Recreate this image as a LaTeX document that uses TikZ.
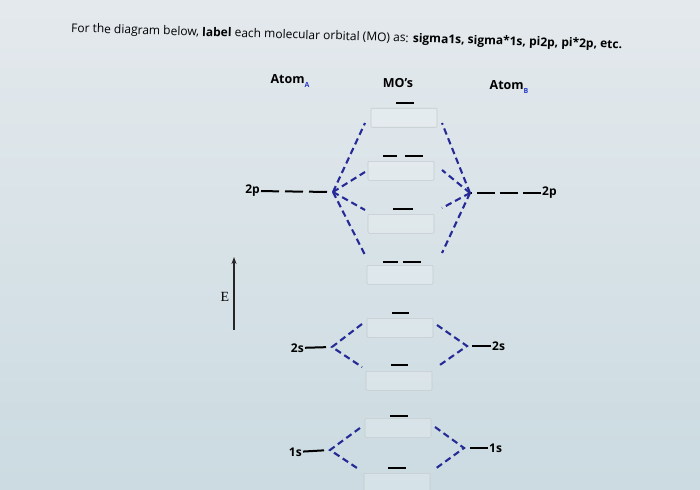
\documentclass[tikz,border=0pt]{standalone}
\usepackage{fontspec}
\setmainfont{Open Sans}
\newfontfamily\serifE{Liberation Serif}
\usetikzlibrary{arrows.meta}

\definecolor{papertop}{RGB}{228,233,237}
\definecolor{paperbot}{RGB}{203,219,225}
\definecolor{mixblue}{RGB}{38,42,150}
\definecolor{subblue}{RGB}{40,60,200}
\definecolor{boxgray}{RGB}{196,203,208}

\tikzset{
	moline/.style={fill=black, minimum width=#1, minimum height=2.5pt, inner sep=0pt},
	moline/.default=18pt,
	answerbox/.style={draw=boxgray, fill=white, fill opacity=0.2, rounded corners=1pt,
		line width=0.6pt, minimum width=66pt, minimum height=19pt, inner sep=0pt},
	mix/.style={draw=mixblue, line width=2.1pt, dash pattern=on 6.5pt off 4pt},
	aolabel/.style={font=\bfseries\fontsize{12}{13}\selectfont, inner sep=1pt},
	aoline/.style={line width=2pt},
	header/.style={font=\bfseries\fontsize{12.5}{14}\selectfont, inner sep=0pt},
}

\newcommand{\atomsub}[1]{\raisebox{-4pt}{\textcolor{subblue}{\fontsize{7}{7}\selectfont #1}}}

\begin{document}
\begin{tikzpicture}[x=1pt,y=-1pt]
	% paper
	\fill[top color=papertop, bottom color=paperbot] (0,0) rectangle (700,489);
	\useasboundingbox (0,0) rectangle (700,489);
	
	\node[anchor=west, rotate=-1.7, inner sep=0pt, font=\fontsize{12}{14}\selectfont] (title) at (71,29)
		{For the diagram below, \textbf{label} each molecular orbital (MO) as: \textbf{sigma1s, sigma*1s, pi2p, pi*2p, etc.}};
	
	\node[header] (atomA) at (290,81) {Atom\atomsub{A}};
	\node[header] (mos) at (398,83) {MO's};
	\node[header] (atomB) at (509,87) {Atom\atomsub{B}};
	
	% answer boxes
	\foreach \y/\x [count=\i] in {108/404,161/401,214/401,265/400,318/400,371/399,418/398,473/397}
		\node[answerbox, anchor=north] (box\i) at (\x,\y) {};
	
	% molecular orbitals
	\node[moline] (s2pstar) at (405,103) {};
	\node[moline=14pt] (p2pstarA) at (390,156) {};
	\node[moline=18pt] (p2pstarB) at (414,156) {};
	\node[moline=20pt] (s2p) at (403,209) {};
	\node[moline=15pt] (p2pA) at (390.5,262) {};
	\node[moline=18pt] (p2pB) at (412,262) {};
	\node[moline=17pt] (s2sstar) at (400.5,313) {};
	\node[moline=17pt] (s2s) at (399.5,365) {};
	\node[moline] (s1sstar) at (399,416) {};
	\node[moline] (s1s) at (397,468) {};
	
	% atom A
	\node[aolabel, anchor=east] (twopA) at (261,191) {2p};
	\node[aolabel, anchor=east] (twosA) at (305,348) {2s};
	\node[aolabel, anchor=east] (onesA) at (303,452) {1s};
	\coordinate (vpA) at (333,192);
	\coordinate (vsA) at (332,347);
	\coordinate (v1A) at (330,450);
	
	% atom B
	\node[aolabel, anchor=west] (twopB) at (541,193) {2p};
	\node[aolabel, anchor=west] (twosB) at (491,346) {2s};
	\node[aolabel, anchor=west] (onesB) at (488,448) {1s};
	\coordinate (vpB) at (470,193);
	\coordinate (vsB) at (467,346);
	\coordinate (v1B) at (464,448);
	
	\draw[aoline, dash pattern=on 18pt off 6pt] (twopA) -- (vpA);
	\draw[aoline, dash pattern=on 18pt off 5pt] (twopB) -- (vpB);
	\draw[aoline, shorten >=6pt] (twosA) -- (vsA);
	\draw[aoline, shorten >=5pt] (twosB) -- (vsB);
	\draw[aoline, shorten >=6pt] (onesA) -- (v1A);
	\draw[aoline, shorten >=6pt] (onesB) -- (v1B);
	
	% correlation lines
	\foreach \y [count=\i] in {123,172,210,255}
		\coordinate (eA\i) at (365,\y);
	\foreach \y [count=\i] in {123,170,208,253}
		\coordinate (eB\i) at (442,\y);
	\foreach \i in {1,...,4} {
		\draw[mix] (vpA) -- (eA\i);
		\draw[mix] (vpB) -- (eB\i);
	}
	\coordinate (sA1) at (362,324);
	\coordinate (sA2) at (362,367);
	\coordinate (sB1) at (437,325);
	\coordinate (sB2) at (437,367);
	\coordinate (oA1) at (360,428);
	\coordinate (oA2) at (360,470);
	\coordinate (oB1) at (435,427);
	\coordinate (oB2) at (435,469);
	\draw[mix] (sA1) -- (vsA) -- (sA2);
	\draw[mix] (sB1) -- (vsB) -- (sB2);
	\draw[mix] (oA1) -- (v1A) -- (oA2);
	\draw[mix] (oB1) -- (v1B) -- (oB2);
	
	% energy axis
	\coordinate (ebot) at (234,330);
	\coordinate (etop) at (234,257);
	\draw[-{Stealth[length=7pt,width=5pt]}, line width=1.2pt, black!85] (ebot) -- (etop);
	\node[font=\serifE\fontsize{14}{14}\selectfont, inner sep=0pt] (elabel) at (225,297) {E};
\end{tikzpicture}
\end{document}
